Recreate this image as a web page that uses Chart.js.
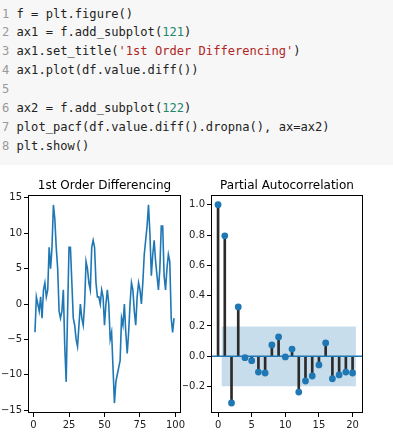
<!DOCTYPE html>
<html>
<head>
<meta charset="utf-8">
<script src="https://cdn.jsdelivr.net/npm/chart.js@4.4.1/dist/chart.umd.min.js"></script>
<style>
    html, body { margin: 0; padding: 0; background: #fff; }
    body { width: 393px; height: 448px; position: relative; overflow: hidden; }
    #code {
        position: absolute; left: 0; top: 0; width: 393px; height: 165px;
        margin: 0; padding: 4.5px 0 0 2px; box-sizing: border-box;
        background: #f7f7f7; color: #222;
        font: 12.1px/18.9px "DejaVu Sans Mono", monospace;
    }
    .ln { color: #999; }
    .num { color: #22876c; }
    .str { color: #b0261f; }
    #diffChart { position: absolute; left: 0; top: 170px; }
    #pacfChart { position: absolute; left: 183px; top: 170px; }
</style>
</head>
<body>
<pre id="code"><span class="ln">1</span> f = plt.figure()
<span class="ln">2</span> ax1 = f.add_subplot(<span class="num">121</span>)
<span class="ln">3</span> ax1.set_title(<span class="str">'1st Order Differencing'</span>)
<span class="ln">4</span> ax1.plot(df.value.diff())
<span class="ln">5</span>
<span class="ln">6</span> ax2 = f.add_subplot(<span class="num">122</span>)
<span class="ln">7</span> plot_pacf(df.value.diff().dropna(), ax=ax2)
<span class="ln">8</span> plt.show()</pre>
<canvas id="diffChart" width="196" height="278"></canvas>
<canvas id="pacfChart" width="210" height="278"></canvas>
<script>
// valores de la serie diferenciada (indice 1..99)
const diffValues = [
    -4, 1, 0, -1, 1, -2, 2, 3, 1, 2,
    8, 5, 8, 14, 12, 8, 5, -1, -2, -1,
    2, -6, -11, -1, 8, 8, 3, -2, -3, -5,
    -6, -3, 0, -2, -3, 0, 6, 5, 3, 2,
    8, 9, 8, 3, 1, 1, 0, 2, 1, -3,
    0, 2, 0, -5, -4, -9, -14, -11, -10, -9,
    -8, -2, -3, 0, -4, -7, -4, 0, 3, 2,
    -1, -3, 1, 3, 2, 0, 3, 7, 9, 11,
    14, 10, 4, 7, 9, 6, 4, 2, 5, 11,
    11, 4, 2, 5, 7, 6, -2, -4, -2
];
const diffXTicks = [0, 25, 50, 75, 100];
const diffYTicks = [-15, -10, -5, 0, 5, 10, 15];

// autocorrelacion parcial
const pacfLags = [0, 1, 2, 3, 4, 5, 6, 7, 8, 9, 10, 11, 12, 13, 14, 15, 16, 17, 18, 19, 20];
const pacfValues = [1.0, 0.795, -0.308, 0.326, -0.009, -0.029, -0.104, -0.110, 0.075, 0.128,
    -0.004, 0.048, -0.236, -0.163, -0.130, -0.057, 0.088, -0.148, -0.123, -0.104, -0.110];
const confLimit = 0.197;
const bandLags = [0.5, 20.5];
const pacfXTicks = [0, 5, 10, 15, 20];
const pacfYTicks = [-0.2, 0.0, 0.2, 0.4, 0.6, 0.8, 1.0];

const blue = '#1f77b4';
const tickFont = { family: 'DejaVu Sans', size: 10 };
const minus = s => String(s).replace('-', '\u2212');

// marco de los ejes (4 lados) y titulo centrado sobre el area
const frame = {
    id: 'frame',
    afterDraw(chart, args, opts) {
        const { ctx, chartArea: a } = chart;
        ctx.save();
        ctx.strokeStyle = '#000';
        ctx.lineWidth = 1;
        const l = Math.round(a.left) + 0.5, t = Math.round(a.top) + 0.5;
        const r = Math.round(a.right) - 0.5, b = Math.round(a.bottom) - 0.5;
        ctx.strokeRect(l, t, r - l, b - t);
        ctx.fillStyle = '#000';
        ctx.font = '12px "DejaVu Sans"';
        ctx.textAlign = 'center';
        ctx.textBaseline = 'middle';
        ctx.fillText(opts.text, (a.left + a.right) / 2, a.top - 9);
        ctx.restore();
    }
};

function axis(min, max, ticks, fmt, size, isX) {
    return {
        type: 'linear',
        min: min,
        max: max,
        offset: false,
        afterBuildTicks: s => { s.ticks = ticks.map(v => ({ value: v })); },
        afterFit: s => { if (isX) s.height = size; else s.width = size; },
        grid: { offset: false, drawOnChartArea: false, drawTicks: true, tickLength: 4, tickColor: '#000', lineWidth: 1 },
        border: { display: false },
        ticks: { color: '#222', font: tickFont, padding: 2, maxRotation: 0, autoSkip: false, callback: fmt }
    };
}

new Chart(document.getElementById('diffChart'), {
    type: 'line',
    data: {
        datasets: [{
            data: diffValues.map((v, i) => ({ x: i + 1, y: v })),
            borderColor: blue,
            borderWidth: 1.6,
            pointRadius: 0,
            tension: 0,
            fill: false
        }]
    },
    options: {
        responsive: false,
        animation: false,
        events: [],
        layout: { padding: { top: 25, right: 15, left: 0, bottom: 0 } },
        plugins: { legend: { display: false }, tooltip: { enabled: false }, frame: { text: '1st Order Differencing' } },
        scales: {
            x: axis(-3.9, 103.9, diffXTicks, v => minus(v), 35, true),
            y: axis(-15.4, 15.4, diffYTicks, v => minus(v), 28, false)
        }
    },
    plugins: [frame]
});

const xMin = -1.05, xMax = 21.55;
new Chart(document.getElementById('pacfChart'), {
    type: 'bar',
    data: {
        datasets: [
            {
                type: 'scatter',
                data: pacfLags.map((l, i) => ({ x: l, y: pacfValues[i] })),
                backgroundColor: blue,
                borderColor: blue,
                pointRadius: 3.4,
                borderWidth: 0,
                order: 0
            },
            {
                type: 'line',
                data: [{ x: xMin, y: 0 }, { x: xMax, y: 0 }],
                borderColor: blue,
                borderWidth: 1.5,
                pointRadius: 0,
                order: 1
            },
            {
                type: 'bar',
                data: pacfLags.map((l, i) => ({ x: l, y: pacfValues[i] })),
                backgroundColor: '#2b2b2b',
                barThickness: 2,
                grouped: false,
                order: 2
            },
            {
                type: 'line',
                data: bandLags.map(l => ({ x: l, y: confLimit })),
                borderWidth: 0,
                pointRadius: 0,
                backgroundColor: 'rgba(31,119,180,0.25)',
                fill: '+1',
                order: 3
            },
            {
                type: 'line',
                data: bandLags.map(l => ({ x: l, y: -confLimit })),
                borderWidth: 0,
                pointRadius: 0,
                fill: false,
                order: 3
            }
        ]
    },
    options: {
        responsive: false,
        animation: false,
        events: [],
        layout: { padding: { top: 25, right: 30, left: 0, bottom: 0 } },
        plugins: { legend: { display: false }, tooltip: { enabled: false }, frame: { text: 'Partial Autocorrelation' } },
        scales: {
            x: axis(xMin, xMax, pacfXTicks, v => minus(v), 35, true),
            y: axis(-0.374, 1.064, pacfYTicks, v => minus(Number(v).toFixed(1)), 28, false)
        }
    },
    plugins: [frame]
});
</script>
</body>
</html>
